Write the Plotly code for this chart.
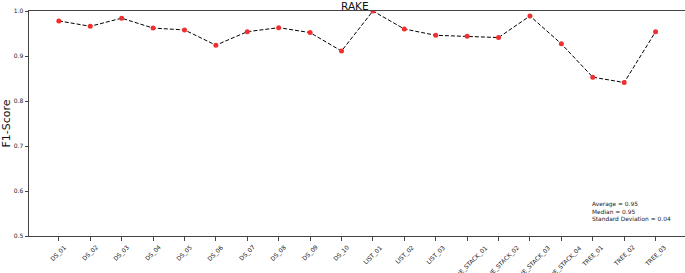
import plotly.graph_objects as go

categories = ["DS_01", "DS_02", "DS_03", "DS_04", "DS_05", "DS_06", "DS_07", "DS_08", "DS_09", "DS_10",
              "LIST_01", "LIST_02", "LIST_03",
              "QUEUE_STACK_01", "QUEUE_STACK_02", "QUEUE_STACK_03", "QUEUE_STACK_04",
              "TREE_01", "TREE_02", "TREE_03"]
f1_scores = [0.978, 0.966, 0.984, 0.962, 0.958, 0.924, 0.954, 0.963, 0.952, 0.911,
             1.000, 0.960, 0.946,
             0.944, 0.941, 0.989, 0.927,
             0.853, 0.841, 0.954]
y_ticks = [0.5, 0.6, 0.7, 0.8, 0.9, 1.0]
stats_text = "Average = 0.95<br>Median = 0.95<br>Standard Deviation = 0.04"
title = "RAKE"

FONT = "DejaVu Sans"
idx = list(range(len(categories)))

fig = go.Figure()
fig.add_trace(go.Scatter(
    x=idx, y=f1_scores, mode="lines+markers",
    line=dict(color="black", width=1, dash="4px,2px"),
    marker=dict(color="#f03030", size=5),
    showlegend=False,
))

# rotated category labels, centered on ticks (matplotlib-like)
for i, c in zip(idx, categories):
    fig.add_annotation(
        x=i, xref="x", y=0, yref="paper", yshift=-5,
        text=c, textangle=-45, showarrow=False,
        xanchor="center", yanchor="top",
        font=dict(family=FONT, size=6, color="#222"),
    )

fig.add_annotation(
    x=17, xref="x", y=0.527, yref="y", text=stats_text, showarrow=False,
    xanchor="left", yanchor="bottom", align="left", xshift=-3,
    font=dict(family=FONT, size=5.9, color="#222"),
)

fig.update_layout(
    width=685, height=273,
    margin=dict(l=25, r=0, t=11, b=36.5),
    paper_bgcolor="white", plot_bgcolor="white",
    font=dict(family=FONT, color="#222"),
    title=dict(text=title, x=0.518, xanchor="center", yref="paper", y=1, yanchor="bottom",
               pad=dict(b=1, t=0),
               font=dict(family=FONT, size=10.5, color="#111")),
)
fig.update_xaxes(
    range=[-0.95, 19.937], tickvals=idx, ticktext=[""] * len(idx),
    showgrid=False, zeroline=False,
    showline=True, linecolor="#444", linewidth=1, mirror=True,
    ticks="outside", ticklen=3.5, tickcolor="#444",
)
fig.update_yaxes(
    range=[0.5, 1.0], tickvals=y_ticks, tickformat=".1f",
    showgrid=False, zeroline=False,
    showline=True, linecolor="#444", linewidth=1,
    ticks="outside", ticklen=3.5, tickcolor="#444",
    tickfont=dict(family=FONT, size=6, color="#222"),
    title=dict(text="F1-Score", font=dict(family=FONT, size=11, color="#111"), standoff=6),
)

fig.write_html("out.html")
